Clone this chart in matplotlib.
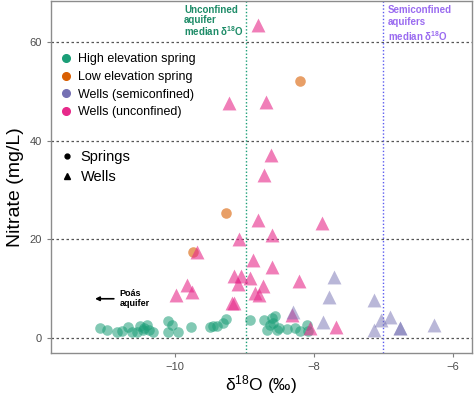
import matplotlib
matplotlib.use("Agg")
import matplotlib.pyplot as plt
from matplotlib.lines import Line2D

plt.rcParams['font.family'] = ['Liberation Sans', 'DejaVu Sans']
plt.rcParams['mathtext.fontset'] = 'custom'
plt.rcParams['mathtext.rm'] = 'Liberation Sans'
plt.rcParams['mathtext.it'] = 'Liberation Sans:italic'
plt.rcParams['mathtext.bf'] = 'Liberation Sans:bold'

# High elevation springs (d18O, nitrate)
high_x = [-11.08, -10.98, -10.84, -10.76, -10.67, -10.62, -10.55, -10.50, -10.46, -10.44,
          -10.41, -10.38, -10.31, -10.10, -10.05, -10.10, -9.95, -9.77, -9.50, -9.45,
          -9.40, -9.31, -9.27, -8.92, -8.72, -8.68, -8.63, -8.59, -8.56, -8.61,
          -8.53, -8.50, -8.39, -8.27, -8.20, -8.10, -8.08]
high_y = [1.9, 1.6, 1.2, 1.4, 2.2, 1.2, 1.2, 2.4, 1.6, 2.0,
          2.6, 1.6, 1.2, 3.4, 2.6, 1.2, 1.1, 2.1, 2.1, 2.4,
          2.3, 2.9, 3.7, 3.6, 3.5, 1.6, 2.6, 2.9, 4.4, 3.9,
          1.6, 2.0, 1.7, 1.9, 1.4, 2.6, 1.4]

# Low elevation springs
low_x = [-8.20, -9.26, -9.74]
low_y = [52.1, 25.3, 17.4]

# Wells (unconfined)
unc_x = [-8.81, -9.22, -8.69, -8.62, -8.72, -8.81, -7.88, -9.08, -8.61, -9.69,
         -8.88, -8.60, -8.22, -9.15, -9.05, -9.10, -8.92, -9.83, -9.75, -9.99,
         -8.74, -8.85, -8.79, -9.18, -9.15, -8.32, -8.06, -7.68]
unc_y = [63.4, 47.7, 47.9, 37.0, 33.0, 23.8, 23.3, 20.0, 20.8, 17.3,
         15.8, 14.4, 11.6, 12.6, 12.5, 10.9, 12.1, 10.7, 9.2, 8.6,
         10.4, 9.0, 8.7, 7.1, 7.0, 4.6, 1.9, 2.2]

# Wells (semiconfined)
semi_x = [-7.71, -7.79, -8.30, -7.87, -7.13, -7.03, -6.90, -7.13, -6.77, -6.77, -6.27]
semi_y = [12.3, 8.2, 5.3, 3.2, 7.7, 3.5, 4.3, 1.6, 1.9, 1.9, 2.6]

unconfined_median = -8.98
semiconfined_median = -7.01

green = '#1B9E77'
orange = '#D95F02'
purple = '#7570B3'
pink = '#E7298A'

fig = plt.figure(figsize=(4.74, 3.99), dpi=100)
ax = fig.add_axes([0.1076, 0.1153, 0.8882, 0.8822])

for y in [0, 20, 40, 60]:
    ax.axhline(y, color='#555555', lw=0.9, ls=(0, (2, 2)), zorder=1)
ax.axvline(unconfined_median, color=green, lw=1, ls=(0, (1, 1.5)), zorder=1)
ax.axvline(semiconfined_median, color='#5C5CF0', lw=1, ls=(0, (1, 1.5)), zorder=1)

ax.scatter(high_x, high_y, s=58, marker='o', color=green, alpha=0.55, lw=0, zorder=3)
ax.scatter(low_x, low_y, s=58, marker='o', color=orange, alpha=0.6, lw=0, zorder=3)
ax.scatter(unc_x, unc_y, s=100, marker='^', color=pink, alpha=0.6, lw=0, zorder=3)
ax.scatter(semi_x, semi_y, s=100, marker='^', color=purple, alpha=0.5, lw=0, zorder=3)

ax.set_xlim(-11.784, -5.727)
ax.set_ylim(-3.1, 68.3)
ax.set_xticks([-10, -8, -6])
ax.set_yticks([0, 20, 40, 60])
ax.tick_params(colors='#7f7f7f', labelcolor='#4d4d4d', labelsize=8, length=3, width=0.8)
for s in ax.spines.values():
    s.set_color('#8c8c8c')
    s.set_linewidth(1)

ax.set_xlabel(r'$\mathregular{\delta^{18}}$O (‰)', fontsize=12.5, labelpad=1)
ax.set_ylabel('Nitrate (mg/L)', fontsize=14)
ax.yaxis.set_label_coords(-0.063, 0.47)

# median annotations
ax.text(-9.87, 67.5, 'Unconfined\naquifer\n' + r'median $\mathbf{\delta^{18}}$O',
        color='#1E8C68', fontsize=7, fontweight='bold', ha='left', va='top', linespacing=0.95)
ax.text(-6.94, 67.5, 'Semiconfined\naquifers\n' + r'median $\mathbf{\delta^{18}}$O',
        color='#9A6BF0', fontsize=7, fontweight='bold', ha='left', va='top', linespacing=1.2)

# Poas aquifer arrow
ax.annotate('', xy=(-11.19, 7.9), xytext=(-10.84, 7.9),
            arrowprops=dict(arrowstyle='-|>', color='black', lw=1.2, mutation_scale=6))
ax.text(-10.80, 7.9, 'Poás\naquifer', fontsize=6.5, fontweight='bold', ha='left', va='center',
        linespacing=1.1)

# legends
groups = ['High elevation spring', 'Low elevation spring', 'Wells (semiconfined)', 'Wells (unconfined)']
colors = [green, orange, purple, pink]
h1 = [Line2D([], [], ls='', marker='o', ms=5.5, color=c) for c in colors]
leg1 = ax.legend(h1, groups, loc='upper left', bbox_to_anchor=(0.022, 0.851), frameon=False,
                 fontsize=9, handlelength=0.9, handletextpad=0.5, labelspacing=0.45,
                 borderaxespad=0, borderpad=0)
ax.add_artist(leg1)

shapes = ['Springs', 'Wells']
h2 = [Line2D([], [], ls='', marker='o', ms=3.5, color='black'),
      Line2D([], [], ls='', marker='^', ms=4.5, color='black')]
ax.legend(h2, shapes, loc='upper left', bbox_to_anchor=(0.022, 0.576), frameon=False,
          fontsize=10.5, handlelength=0.9, handletextpad=0.5, labelspacing=0.4,
          borderaxespad=0, borderpad=0)

fig.savefig('out.png', dpi=100)
